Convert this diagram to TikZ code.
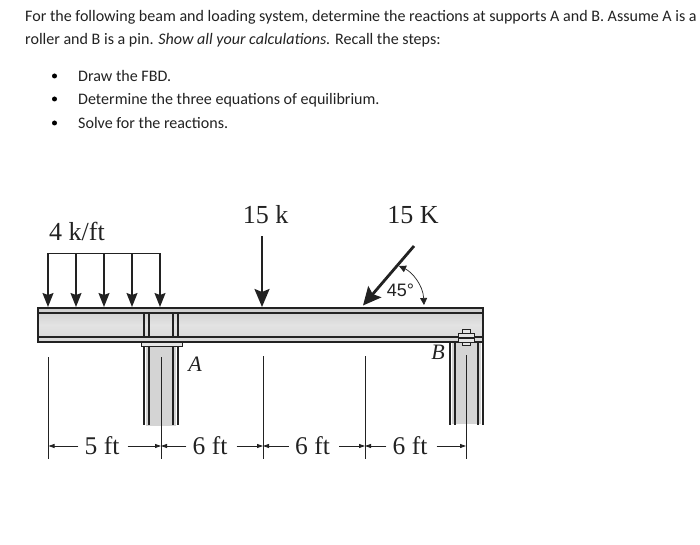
\documentclass[tikz,border=0pt]{standalone}
\usepackage{fontspec}
\setmainfont{Liberation Serif}
\newfontfamily\carfont{Carlito}
\newfontfamily\arlfont{Liberation Sans}
\usetikzlibrary{arrows.meta,calc}
\definecolor{steel}{HTML}{CCCCCC}
\definecolor{ink}{HTML}{222222}
\tikzset{
 txt/.style={anchor=base west,inner sep=0,font=\carfont\fontsize{16.05}{18}\selectfont,text=ink},
 lbl/.style={inner sep=0,font=\fontsize{26}{28}\selectfont,text=ink},
 dimlbl/.style={inner sep=0,font=\fontsize{25.5}{28}\selectfont,text=ink},
 suplbl/.style={inner sep=0,font=\itshape\fontsize{22}{24}\selectfont,text=ink},
 load/.style={draw=ink,line width=1.5pt,-{Stealth[length=14pt,width=11pt,inset=2pt]}},
 heavy/.style={draw=ink,line width=2.8pt,-{Stealth[length=18pt,width=17pt,inset=3pt]}},
 ext/.style={draw=ink,line width=.8pt},
 dimar/.style={draw=ink,line width=.8pt,-{Triangle[length=6pt,width=4pt]}},
 bullet/.style={circle,fill=black,inner sep=0,minimum size=5pt},
}
\begin{document}
\begin{tikzpicture}[x=1pt,y=-1pt]
\useasboundingbox (0,0) rectangle (700,545);
\clip (0,0) rectangle (700,545);
\fill[white] (0,0) rectangle (700,545);
% text
\node[txt] (l1) at (25,21.5) {For the following beam and loading system, determine the reactions at supports A and B. Assume A is a};
\node[txt] (l2) at (25,44.5) {roller and B is a pin. \textit{Show all your calculations.} Recall the steps:};
\node[bullet] (b1) at (54.5,76) {}; \node[txt] (t1) at (78,82) {Draw the FBD.};
\node[bullet] (b2) at (54.5,99) {}; \node[txt] (t2) at (78,105) {Determine the three equations of equilibrium.};
\node[bullet] (b3) at (54.5,123) {}; \node[txt] (t3) at (78,129) {Solve for the reactions.};
% columns
\fill[steel!85!white] (146,345) rectangle (176,426);
\fill[steel!85!white] (452,342) rectangle (481,424);
\foreach \x in {144,149,173,178,450,455,478,483}
  \draw[draw=ink,line width=1.5pt] (\x,342) -- (\x,425);
% beam
\shade[top color=steel,bottom color=steel!80!white,middle color=steel!55!white] (38,308) rectangle (483,342);
\draw[ink,line width=1.4pt] (38,308) rectangle (483,342);
\draw[ink,line width=1.6pt] (38,313) -- (483,313);
\draw[ink,line width=1.6pt] (38,337) -- (483,337);
\foreach \x in {144,149,173,178}
  \draw[ink,line width=1.3pt] (\x,313) -- (\x,337);
\draw[ink,line width=1pt,fill=steel!50!white] (141,342.5) rectangle (182,346);
% bolt at B
\draw[ink,line width=.8pt,fill=steel!50!white] (458,333) rectangle (474,337);
\draw[ink,line width=.8pt,fill=steel!50!white] (462,329) rectangle (470,333);
\draw[ink,line width=.8pt,fill=steel!50!white] (458,338) rectangle (474,342);
\draw[ink,line width=.8pt,fill=steel!50!white] (462,342) rectangle (470,345);
% distributed load
\coordinate (la) at (48,253); \coordinate (lb) at (160,253);
\draw[ink,line width=1pt] (la) -- (lb);
\foreach \n/\x in {a/48,b/76,c/104,d/132,e/160}{
  \coordinate (s\n) at (\x,253); \coordinate (e\n) at (\x,307);
  \draw[load] (s\n) -- (e\n);
}
\node[lbl] (w) at (77,231.5) {4 k/ft};
% point loads
\coordinate (p1) at (262,236); \coordinate (p1e) at (262,307);
\draw[draw=ink,line width=2.2pt,-{Stealth[length=18pt,width=15pt,inset=3pt]}] (p1) -- (p1e);
\node[lbl] (f1) at (265.5,215) {15 k};
\coordinate (p2) at (414,246); \coordinate (p2e) at (363,305.5);
\draw[heavy] (p2) -- (p2e);
\node[lbl] (f2) at (413,215) {15 K};
% angle
\coordinate (a1) at (399,266); \coordinate (a2) at (424,305);
\draw[draw=ink,line width=.7pt,{Triangle[length=7pt,width=7pt]}-{Triangle[length=7pt,width=7pt]}] (a1) .. controls (412,272) and (423,285) .. (a2);
\node[inner sep=0,font=\arlfont\fontsize{18}{20}\selectfont,text=ink] (ang) at (400.5,290.5) {45°};
\node[suplbl] (A) at (195,364.5) {A};
\node[suplbl] (B) at (438,352.5) {B};
% dimensions
\foreach \n/\x/\t in {d1/48.5/357,d2/161/357,d3/263/356,d4/365/356,d5/466/355}{
  \coordinate (\n t) at (\x,\t); \coordinate (\n b) at (\x,459);
  \coordinate (\n m) at (\x,446);
  \draw[ext] (\n t) -- (\n b);
}
\node[dimlbl] (m1) at (102,446) {5 ft};
\node[dimlbl] (m2) at (210,446) {6 ft};
\node[dimlbl] (m3) at (312.5,446) {6 ft};
\node[dimlbl] (m4) at (410,446) {6 ft};
\draw[dimar] (m1.west)++(-6,0) -- (d1m);
\draw[dimar] (m1.east)++(8,0) -- (d2m);
\draw[dimar] (m2.west)++(-6,0) -- (d2m);
\draw[dimar] (m2.east)++(9,0) -- (d3m);
\draw[dimar] (m3.west)++(-6,0) -- (d3m);
\draw[dimar] (m3.east)++(9,0) -- (d4m);
\draw[dimar] (m4.west)++(-6,0) -- (d4m);
\draw[dimar] (m4.east)++(9,0) -- (d5m);
\end{tikzpicture}
\end{document}
